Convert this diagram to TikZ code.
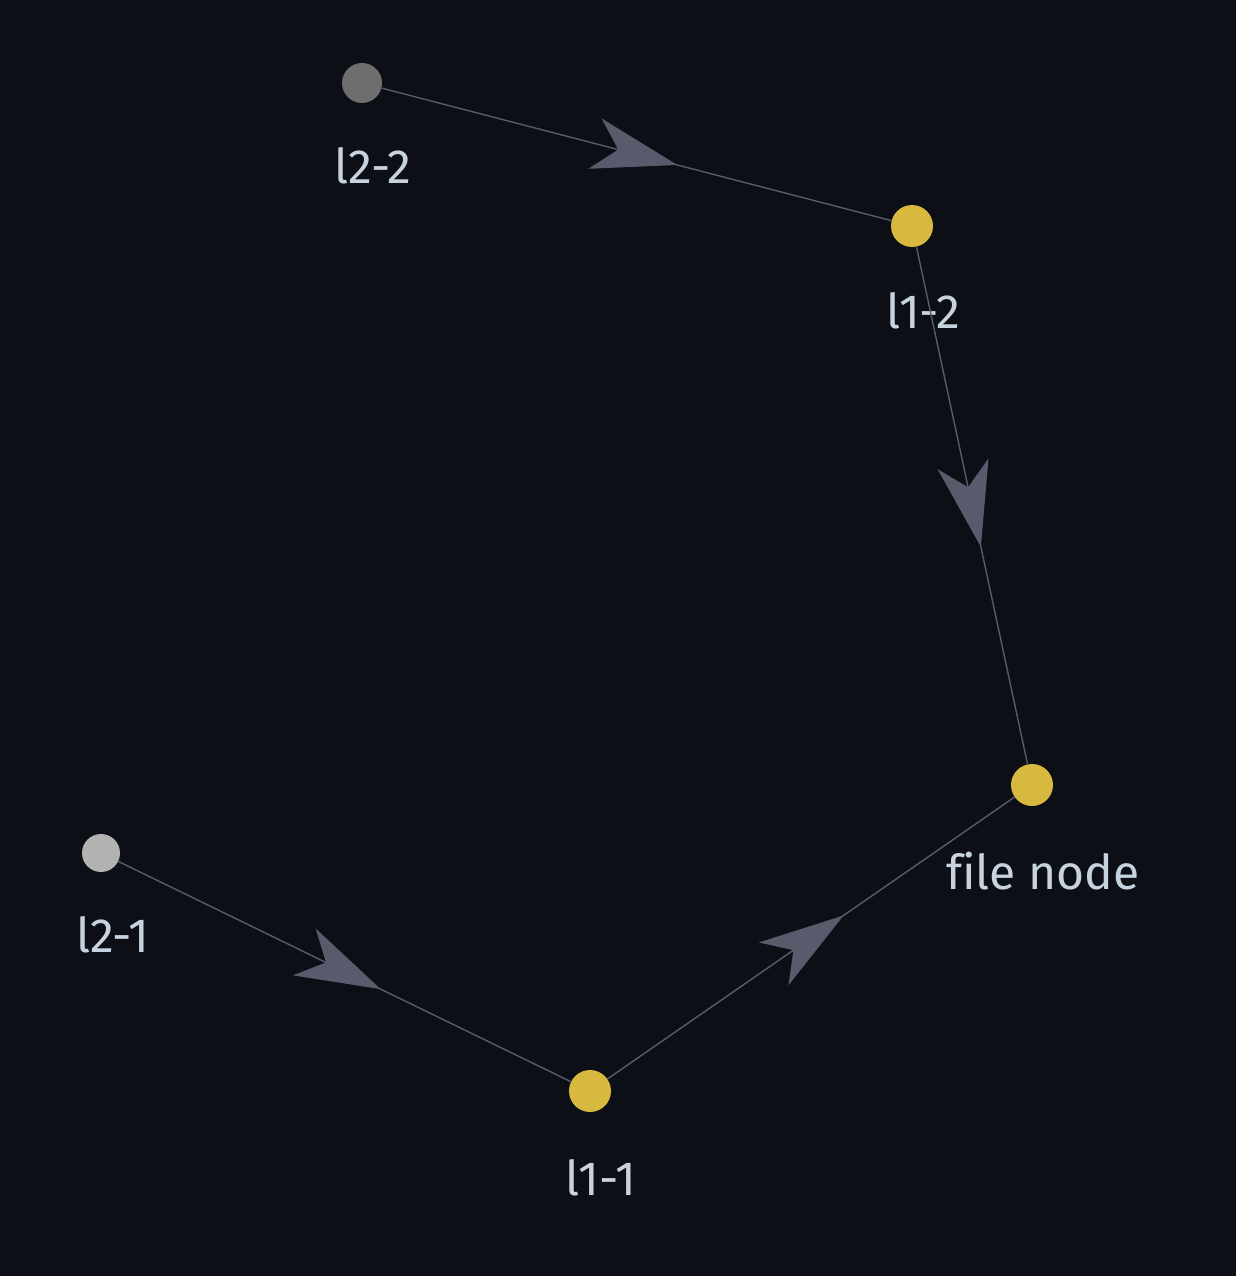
\documentclass[tikz,border=0pt]{standalone}
\usepackage{fontspec}
\setmainfont{Fira Sans}[Ligatures=NoCommon]
\usetikzlibrary{arrows.meta,decorations.markings}
\definecolor{bgdark}{HTML}{0D0F16}
\definecolor{edgegray}{HTML}{575B6B}
\definecolor{fileyellow}{HTML}{D8B940}
\definecolor{labeltext}{HTML}{C8D3E0}
\begin{document}
\begin{tikzpicture}[x=1pt, y=-1pt,
    vertex/.style={circle, inner sep=0pt, minimum size=#1},
    vlabel/.style={text=labeltext, font=\fontsize{48}{54}\selectfont, anchor=center},
    link/.style={draw=edgegray, line width=1.4pt,
      postaction={decorate, decoration={markings,
        mark=at position 0.58 with {\arrow{Stealth[length=85pt, width=52pt, inset=24pt, fill=edgegray]}}}}}]
  \fill [bgdark] (0, 0) rectangle (1236, 1276);
  \useasboundingbox (0, 0) rectangle (1236, 1276);

  \node [vertex=40pt, fill=gray!85!white!75!black] (l22) at (362, 83) {};
  \node [vertex=42pt, fill=fileyellow] (l12) at (912, 226) {};
  \node [vertex=42pt, fill=fileyellow] (file) at (1032, 785) {};
  \node [vertex=38pt, fill=black!30!white] (l21) at (101, 853) {};
  \node [vertex=42pt, fill=fileyellow] (l11) at (590, 1091) {};

  \node [vlabel] (l22text) at (373, 166) {l2-2};
  \node [vlabel] (l12text) at (923, 311) {l1-2};
  \node [vlabel] (filetext) at (1043, 871) {file node};
  \node [vlabel] (l21text) at (113, 935) {l2-1};
  \node [vlabel] (l11text) at (601, 1178) {l1-1};

  \path [link] (l22) -- (l12);
  \path [link] (l12) -- (file);
  \path [link] (l21) -- (l11);
  \path [link] (l11) -- (file);
\end{tikzpicture}
\end{document}
